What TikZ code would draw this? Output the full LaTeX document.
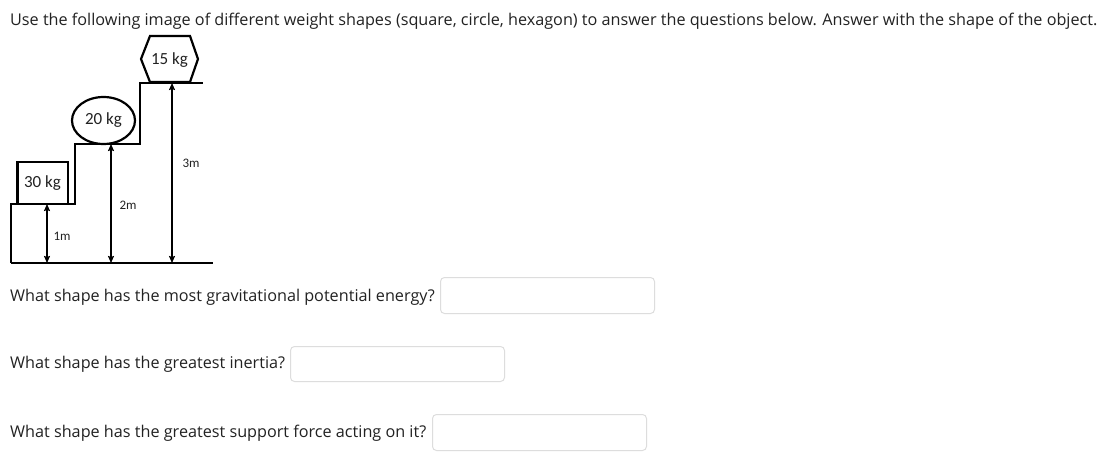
\documentclass[tikz,border=0pt]{standalone}
\usepackage{fontspec}
\setmainfont{Open Sans}
\newfontfamily\calfont{Carlito}
\usetikzlibrary{arrows.meta}
\definecolor{txt}{HTML}{222222}
\definecolor{boxline}{HTML}{DDDDDD}
\begin{document}
\begin{tikzpicture}[x=1pt,y=-1pt,
  qtext/.style={anchor=base west,inner sep=0pt,text=txt,font=\fontsize{16.2}{19}\selectfont},
  answer/.style={draw=boxline,line width=1pt,rounded corners=4pt},
  outline/.style={draw=black,line width=2.2pt},
  kglabel/.style={inner sep=0pt,text=txt,font=\calfont\fontsize{17}{20}\selectfont},
  mlabel/.style={inner sep=0pt,text=txt,font=\calfont\fontsize{13}{15}\selectfont},
  height/.style={line width=1.6pt,{Stealth[length=7pt,width=6pt,inset=1pt]}-{Stealth[length=7pt,width=6pt,inset=1pt]}}]
\useasboundingbox (0,0) rectangle (1115,460);
\fill[white] (0,0) rectangle (1115,460);

% texts
\node[qtext] (title) at (10,26) {Use the following image of different weight shapes (square, circle, hexagon) to answer the questions below. Answer with the shape of the object.};
\node[qtext] (q1) at (10,301) {What shape has the most gravitational potential energy?};
\node[qtext] (q2) at (10,368) {What shape has the greatest inertia?};
\node[qtext] (q3) at (10,437) {What shape has the greatest support force acting on it?};

% answer boxes
\draw[answer] (440.5,277.5) rectangle (654.5,313.5);
\draw[answer] (290.5,346.5) rectangle (504.5,381.5);
\draw[answer] (432.5,414.5) rectangle (646.5,450.5);

% stairs
\coordinate (g0) at (11,263);
\coordinate (g1) at (213,263);
\coordinate (s1) at (47,204);
\coordinate (s2) at (111,144);
\coordinate (s3) at (172,83);
\draw[outline] (g0) -- (g1);
\draw[outline,line join=miter] (11,263) -- (11,204) -- (75,204) -- (75,144) -- (140,144) -- (140,83) -- (203,83);

% weights
\draw[outline] (17.5,162) rectangle (68,204);
\node[kglabel] (w30) at (42.5,183) {30 kg};
\draw[outline] (103.5,120.5) ellipse [x radius=31.5, y radius=23.5];
\node[kglabel] (w20) at (103.5,120) {20 kg};
\draw[outline,line join=miter] (150,36) -- (190,36) -- (198,59) -- (190,82) -- (150,82) -- (141,59) -- cycle;
\node[kglabel] (w15) at (169.5,60) {15 kg};

% height arrows
\coordinate (b1) at (47,263);
\coordinate (b2) at (111,263);
\coordinate (b3) at (172,263);
\draw[height] (s1) -- (b1);
\draw[height] (s2) -- (b2);
\draw[height] (s3) -- (b3);
\node[mlabel] (m1) at (62,236) {1m};
\node[mlabel] (m2) at (128,205) {2m};
\node[mlabel] (m3) at (191,163) {3m};
\end{tikzpicture}
\end{document}
